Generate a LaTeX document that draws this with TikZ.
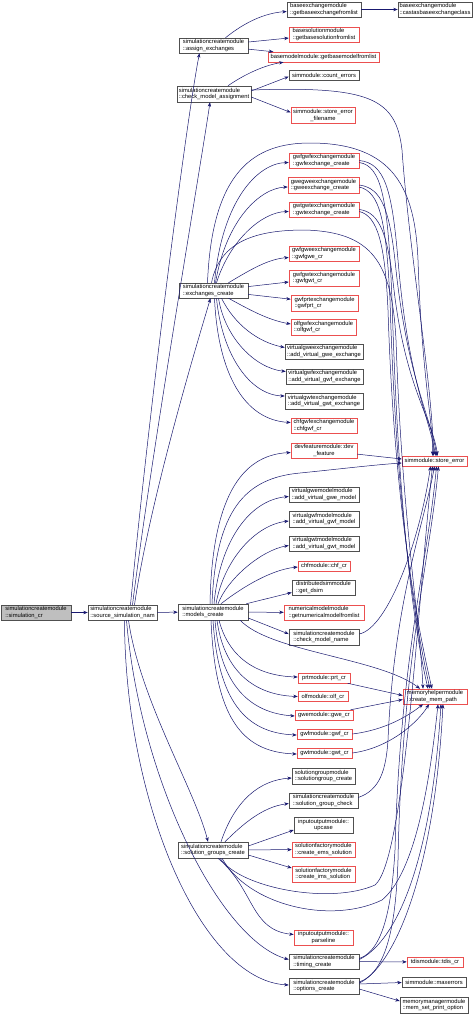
\documentclass[tikz,border=0pt]{standalone}
\usepackage{fontspec}
\setmainfont{Liberation Sans}
\usetikzlibrary{arrows.meta}
\definecolor{edgec}{RGB}{25,25,112}
\definecolor{nodeb}{RGB}{80,80,80}
\definecolor{nodered}{RGB}{235,80,80}
\definecolor{rootf}{RGB}{191,191,191}
\newcommand\nf{\fontsize{5.8}{6.5}\selectfont}
\tikzset{
  bk/.style={draw=nodeb, fill=white, line width=0.5pt, inner sep=0pt, font=\nf, align=left},
  rd/.style={bk, draw=nodered},
  rt/.style={bk, fill=rootf},
  ctr/.style={align=center},
  e/.style={draw=edgec, line width=0.5pt, -{Stealth[length=4.5pt,width=3.4pt]}},
}
\begin{document}
\begin{tikzpicture}[x=1pt,y=-1pt]
\fill[white] (0,0) rectangle (474,1015);
\useasboundingbox (0,0) rectangle (474,1015);
% nodes
\node[rt, minimum width=70pt, minimum height=15pt] (simcr) at (36,612.5) {simulationcreatemodule\\::simulation\_cr};
\node[bk, minimum width=69pt, minimum height=15pt] (src) at (122.5,612.5) {simulationcreatemodule\\::source\_simulation\_nam};
\node[bk, minimum width=69pt, minimum height=15pt] (assign) at (213.5,45.5) {simulationcreatemodule\\::assign\_exchanges};
\node[bk, minimum width=74pt, minimum height=16pt] (checkma) at (214,94) {simulationcreatemodule\\::check\_model\_assignment};
\node[bk, minimum width=74pt, minimum height=15pt] (getbaseex) at (324,9.5) {baseexchangemodule\\::getbaseexchangefromlist};
\node[bk, minimum width=74pt, minimum height=15pt] (castas) at (435,9.5) {baseexchangemodule\\::castasbaseexchangeclass};
\node[rd, minimum width=70pt, minimum height=15pt] (getbasesol) at (324,34.5) {basesolutionmodule\\::getbasesolutionfromlist};
\node[rd, minimum width=111pt, minimum height=10pt] (getbasemodel) at (323.5,57) {basemodelmodule::getbasemodelfromlist};
\node[bk, minimum width=70pt, minimum height=10pt] (counterr) at (324,75.5) {simmodule::count\_errors};
\node[rd, ctr, minimum width=64pt, minimum height=16pt] (sef) at (323,115.5) {simmodule::store\_error\\\_filename};
\node[rd, minimum width=70pt, minimum height=15pt] (gwfexch) at (324,160.5) {gwfgwfexchangemodule\\::gwfexchange\_create};
\node[rd, minimum width=71pt, minimum height=16pt] (gweexch) at (323.5,185) {gwegweexchangemodule\\::gweexchange\_create};
\node[rd, minimum width=70pt, minimum height=15pt] (gwtexch) at (324,209.5) {gwtgwtexchangemodule\\::gwtexchange\_create};
\node[rd, minimum width=70pt, minimum height=15pt] (gwfgwe) at (324,253.5) {gwfgweexchangemodule\\::gwfgwe\_cr};
\node[rd, minimum width=70pt, minimum height=16pt] (gwfgwt) at (324,278) {gwfgwtexchangemodule\\::gwfgwt\_cr};
\node[bk, minimum width=69pt, minimum height=15pt] (exch) at (213.5,290.5) {simulationcreatemodule\\::exchanges\_create};
\node[rd, minimum width=67pt, minimum height=16pt] (gwfprt) at (324.5,303) {gwfprtexchangemodule\\::gwfprt\_cr};
\node[rd, minimum width=65pt, minimum height=16pt] (olfgwf) at (323.5,327) {olfgwfexchangemodule\\::olfgwf\_cr};
\node[bk, minimum width=78pt, minimum height=15pt] (vgweex) at (324,351.5) {virtualgweexchangemodule\\::add\_virtual\_gwe\_exchange};
\node[bk, minimum width=77pt, minimum height=15pt] (vgwfex) at (324.5,376.5) {virtualgwfexchangemodule\\::add\_virtual\_gwf\_exchange};
\node[bk, minimum width=78pt, minimum height=16pt] (vgwtex) at (324,401) {virtualgwtexchangemodule\\::add\_virtual\_gwt\_exchange};
\node[rd, minimum width=66pt, minimum height=15pt] (chfgwf) at (324,425.5) {chfgwfexchangemodule\\::chfgwf\_cr};
\node[rd, ctr, minimum width=66pt, minimum height=15pt] (devfeat) at (324,450.5) {devfeaturemodule::dev\\\_feature};
\node[rd, minimum width=65pt, minimum height=10pt] (storeerr) at (434.5,461) {simmodule::store\_error};
\node[bk, minimum width=70pt, minimum height=15pt] (vgwemod) at (324,494.5) {virtualgwemodelmodule\\::add\_virtual\_gwe\_model};
\node[bk, minimum width=70pt, minimum height=16pt] (vgwfmod) at (324,519) {virtualgwfmodelmodule\\::add\_virtual\_gwf\_model};
\node[bk, minimum width=70pt, minimum height=15pt] (vgwtmod) at (324,543.5) {virtualgwtmodelmodule\\::add\_virtual\_gwt\_model};
\node[rd, minimum width=52pt, minimum height=10pt] (chfcr) at (324,566) {chfmodule::chf\_cr};
\node[bk, minimum width=63pt, minimum height=15pt] (getdsim) at (323.5,587.5) {distributedsimmodule\\::get\_dsim};
\node[bk, minimum width=70pt, minimum height=16pt] (models) at (213,612) {simulationcreatemodule\\::models\_create};
\node[rd, minimum width=80pt, minimum height=15pt] (getnum) at (324,612.5) {numericalmodelmodule\\::getnumericalmodelfromlist};
\node[bk, minimum width=70pt, minimum height=16pt] (cmn) at (324,637) {simulationcreatemodule\\::check\_model\_name};
\node[rd, minimum width=52pt, minimum height=10pt] (prtcr) at (324,678) {prtmodule::prt\_cr};
\node[rd, minimum width=64pt, minimum height=15pt] (cmp) at (435,696.5) {memoryhelpermodule\\::create\_mem\_path};
\node[rd, minimum width=50pt, minimum height=10pt] (olfcr) at (323,696.5) {olfmodule::olf\_cr};
\node[rd, minimum width=58pt, minimum height=10pt] (gwecr) at (324,715) {gwemodule::gwe\_cr};
\node[rd, minimum width=55pt, minimum height=10pt] (gwfcr) at (324.5,734) {gwfmodule::gwf\_cr};
\node[rd, minimum width=55pt, minimum height=10pt] (gwtcr) at (324.5,753) {gwtmodule::gwt\_cr};
\node[bk, minimum width=63pt, minimum height=16pt] (sgcreate) at (323.5,776) {solutiongroupmodule\\::solutiongroup\_create};
\node[bk, minimum width=69pt, minimum height=15pt] (sgcheck) at (323.5,800.5) {simulationcreatemodule\\::solution\_group\_check};
\node[bk, ctr, minimum width=59pt, minimum height=16pt] (upcase) at (323.5,825) {inputoutputmodule::\\upcase};
\node[bk, minimum width=70pt, minimum height=16pt] (sgs) at (213,850) {simulationcreatemodule\\::solution\_groups\_create};
\node[rd, minimum width=63pt, minimum height=15pt] (ems) at (323.5,849.5) {solutionfactorymodule\\::create\_ems\_solution};
\node[rd, minimum width=63pt, minimum height=16pt] (ims) at (323.5,874) {solutionfactorymodule\\::create\_ims\_solution};
\node[rd, ctr, minimum width=59pt, minimum height=15pt] (parseline) at (323.5,937.5) {inputoutputmodule::\\parseline};
\node[bk, minimum width=70pt, minimum height=15pt] (timing) at (324,961.5) {simulationcreatemodule\\::timing\_create};
\node[rd, minimum width=56pt, minimum height=10pt] (tdis) at (435,962) {tdismodule::tdis\_cr};
\node[bk, minimum width=70pt, minimum height=16pt] (options) at (324,986) {simulationcreatemodule\\::options\_create};
\node[bk, minimum width=64pt, minimum height=10pt] (maxerr) at (434,982.5) {simmodule::maxerrors};
\node[bk, minimum width=68pt, minimum height=16pt] (msp) at (434,1005) {memorymanagermodule\\::mem\_set\_print\_option};
% edges from root
\draw[e] (simcr) -- (src);
\draw[e] ([xshift=8pt]src.north) .. controls (150,400) and (188,110) .. ([xshift=-14pt]assign.south);
\draw[e] ([xshift=10pt]src.north) .. controls (152,450) and (200,170) .. ([xshift=-4pt]checkma.south);
\draw[e] ([xshift=12pt]src.north) .. controls (150,500) and (195,350) .. ([xshift=-3pt]exch.south);
\draw[e] (src) -- (models);
\draw[e] ([xshift=6pt]src.south) .. controls (140,700) and (195,790) .. ([xshift=-5pt]sgs.north);
\draw[e] ([xshift=4pt]src.south) .. controls (140,780) and (220,940) .. ([yshift=2pt]timing.west);
\draw[e] ([xshift=2pt]src.south) .. controls (125,800) and (200,980) .. ([yshift=1pt]options.west);
% assign / check
\draw[e] ([xshift=12pt]assign.north) .. controls (245,22) and (265,13) .. ([yshift=-2pt]getbaseex.west);
\draw[e] (assign) -- (getbasesol);
\draw[e] (assign) -- (getbasemodel);
\draw[e] (getbaseex) -- (castas);
\draw[e] ([xshift=14pt]checkma.north) .. controls (245,74) and (265,65) .. ([xshift=-40pt]getbasemodel.south);
\draw[e] ([yshift=3pt]checkma.east) -- ([yshift=-1pt]counterr.west);
\draw[e] ([yshift=4pt]checkma.east) .. controls (370,86) and (396,98) .. (402,150) .. controls (410,260) and (432,380) .. ([xshift=-1pt]storeerr.north);
\draw[e] ([yshift=-3pt]checkma.east) -- ([yshift=3pt]sef.west);
% exchanges
\draw[e] ([xshift=1pt]exch.north) .. controls (222,200) and (258,163) .. ([yshift=-2pt]gwfexch.west);
\draw[e] ([xshift=2pt]exch.north) .. controls (226,220) and (260,188) .. ([yshift=-2pt]gweexch.west);
\draw[e] ([xshift=3pt]exch.north) .. controls (230,240) and (262,212) .. ([yshift=-2pt]gwtexch.west);
\draw[e] ([xshift=15pt]exch.north) .. controls (250,270) and (268,259) .. ([yshift=-4pt]gwfgwe.west);
\draw[e] (exch) -- (gwfgwt);
\draw[e] (exch) -- (gwfprt);
\draw[e] ([xshift=15pt]exch.south) .. controls (250,310) and (268,320) .. ([yshift=3pt]olfgwf.west);
\draw[e] ([xshift=8pt]exch.south) .. controls (235,325) and (258,342) .. ([yshift=4pt]vgweex.west);
\draw[e] ([xshift=5pt]exch.south) .. controls (225,338) and (255,368) .. ([yshift=5pt]vgwfex.west);
\draw[e] ([xshift=3pt]exch.south) .. controls (222,355) and (250,395) .. ([yshift=5pt]vgwtex.west);
\draw[e] ([xshift=1pt]exch.south) .. controls (218,375) and (245,420) .. ([yshift=3pt]chfgwf.west);
\draw[e] ([xshift=-6pt]exch.north) .. controls (212,170) and (255,143) .. (310,143) .. controls (395,143) and (415,190) .. (418,260) .. controls (422,380) and (433,420) .. ([xshift=-2pt]storeerr.north);
\draw[e] ([xshift=-2pt]exch.north) .. controls (220,240) and (258,230) .. (305,230) .. controls (372,232) and (392,262) .. (396,340) .. controls (402,520) and (420,620) .. ([xshift=-12pt]cmp.north);
\draw[e] (gwfexch.east) .. controls (385,163) and (392,190) .. (398,260) .. controls (408,380) and (430,420) .. ([xshift=1pt]storeerr.north);
\draw[e] ([yshift=-2pt]gwfexch.east) .. controls (382,166) and (388,200) .. (392,300) .. controls (398,500) and (412,620) .. ([xshift=-7pt]cmp.north);
\draw[e] (gweexch.east) .. controls (382,188) and (390,210) .. (396,270) .. controls (408,380) and (432,420) .. ([xshift=2pt]storeerr.north);
\draw[e] ([yshift=-2pt]gweexch.east) .. controls (380,192) and (386,220) .. (390,300) .. controls (396,500) and (414,620) .. ([xshift=-5pt]cmp.north);
\draw[e] (gwtexch.east) .. controls (380,212) and (388,235) .. (394,290) .. controls (406,390) and (433,420) .. ([xshift=3pt]storeerr.north);
\draw[e] ([yshift=-2pt]gwtexch.east) .. controls (378,216) and (385,245) .. (388,310) .. controls (394,500) and (416,620) .. ([xshift=-3pt]cmp.north);
% models
\draw[e] ([xshift=-3pt]models.north) .. controls (212,500) and (240,455) .. ([yshift=-2pt]devfeat.west);
\draw[e] ([xshift=-1pt]models.north) .. controls (216,510) and (245,478) .. (300,473) .. controls (340,469) and (372,465) .. ([yshift=-2pt]storeerr.west);
\draw[e] ([xshift=1pt]models.north) .. controls (220,540) and (250,500) .. ([yshift=-2pt]vgwemod.west);
\draw[e] ([xshift=3pt]models.north) .. controls (224,560) and (255,525) .. ([yshift=-2pt]vgwfmod.west);
\draw[e] ([xshift=5pt]models.north) .. controls (228,578) and (262,550) .. ([yshift=-2pt]vgwtmod.west);
\draw[e] ([xshift=8pt]models.north) .. controls (236,592) and (268,570) .. ([yshift=-1pt]chfcr.west);
\draw[e] ([xshift=-2pt]models.north east) -- ([yshift=-5pt]getdsim.west);
\draw[e] (models) -- (getnum);
\draw[e] ([yshift=-6pt]models.east) -- ([yshift=3pt]cmn.west);
\draw[e] ([xshift=-8pt]models.south east) .. controls (270,652) and (380,658) .. ([xshift=-15pt]cmp.north);
\draw[e] ([xshift=6pt]models.south) .. controls (230,662) and (262,676) .. ([yshift=1pt]prtcr.west);
\draw[e] ([xshift=4pt]models.south) .. controls (224,672) and (255,695) .. (olfcr.west);
\draw[e] ([xshift=2pt]models.south) .. controls (220,685) and (250,713) .. ([yshift=-1pt]gwecr.west);
\draw[e] ([xshift=0pt]models.south) .. controls (218,700) and (245,733) .. ([yshift=-1pt]gwfcr.west);
\draw[e] ([xshift=-2pt]models.south) .. controls (215,715) and (240,752) .. ([yshift=-1pt]gwtcr.west);
\draw[e] (devfeat) -- ([yshift=2pt]storeerr.west);
\draw[e] ([yshift=3pt]cmn.east) .. controls (388,628) and (420,540) .. ([xshift=-4pt]storeerr.south);
\draw[e] (prtcr) -- ([yshift=1pt]cmp.west);
\draw[e] (gwecr) -- ([yshift=-3pt]cmp.west);
\draw[e] (gwfcr.east) .. controls (385,730) and (408,716) .. ([xshift=-12pt]cmp.south);
\draw[e] (gwtcr.east) .. controls (390,748) and (418,722) .. ([xshift=-6pt]cmp.south);
% solution groups
\draw[e] ([xshift=8pt]sgs.north) .. controls (235,800) and (260,780) .. ([yshift=-2pt]sgcreate.west);
\draw[e] ([xshift=12pt]sgs.north) .. controls (242,825) and (262,807) .. ([yshift=-3pt]sgcheck.west);
\draw[e] ([yshift=4pt]sgs.east) -- ([yshift=-5pt]upcase.west);
\draw[e] (sgs) -- (ems);
\draw[e] ([yshift=-5pt]sgs.east) -- ([yshift=6pt]ims.west);
\draw[e] ([xshift=5pt]sgs.south) .. controls (255,890) and (250,930) .. ([yshift=3pt]parseline.west);
\draw[e] ([xshift=7pt]sgs.south) .. controls (240,888) and (330,905) .. (375,885) .. controls (405,860) and (418,600) .. ([xshift=-2pt]storeerr.south);
\draw[e] ([xshift=9pt]sgs.south) .. controls (248,905) and (330,925) .. (382,900) .. controls (412,875) and (428,800) .. ([xshift=3pt]cmp.south);
\draw[e] ([yshift=3pt]sgcheck.east) .. controls (380,790) and (386,770) .. (388,740) .. controls (394,600) and (425,520) .. ([xshift=0pt]storeerr.south);
% timing and options
\draw[e] ([yshift=3pt]timing.east) .. controls (385,950) and (392,900) .. (395,850) .. controls (400,660) and (428,560) .. ([xshift=2pt]storeerr.south);
\draw[e] ([yshift=2pt]timing.east) .. controls (390,945) and (430,880) .. ([xshift=6pt]cmp.south);
\draw[e] (timing) -- (tdis);
\draw[e] ([yshift=4pt]options.east) .. controls (388,972) and (396,920) .. (398,860) .. controls (402,660) and (430,560) .. ([xshift=4pt]storeerr.south);
\draw[e] ([yshift=3pt]options.east) .. controls (392,968) and (434,880) .. ([xshift=8pt]cmp.south);
\draw[e] ([yshift=2pt]options.east) -- (maxerr.west);
\draw[e] ([yshift=-3pt]options.east) -- ([yshift=4pt]msp.west);
\end{tikzpicture}
\end{document}
